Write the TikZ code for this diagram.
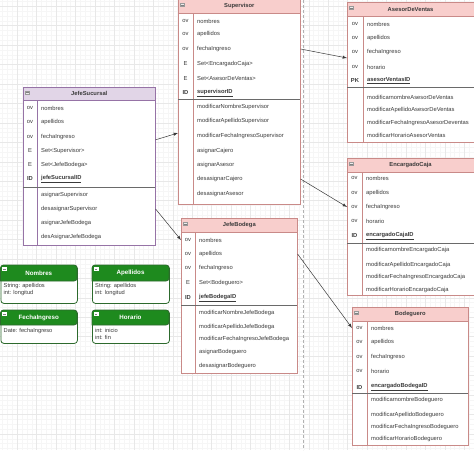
\documentclass[tikz,border=0pt]{standalone}
\usepackage{fontspec}
\setmainfont{Liberation Sans}
\usetikzlibrary{calc}

\definecolor{pinkfill}{HTML}{F8CECC}
\definecolor{pinkline}{HTML}{C98A88}
\definecolor{lilafill}{HTML}{E1D5E7}
\definecolor{lilaline}{HTML}{9673A6}
\definecolor{grnfill}{HTML}{1E8A1E}
\definecolor{grnline}{HTML}{2D6A2D}
\definecolor{txtgray}{HTML}{3A3A3A}
\definecolor{sepline}{HTML}{6A6A6A}
\definecolor{gridmaj}{HTML}{E8E8E8}
\definecolor{gridmin}{HTML}{F6F6F6}

\tikzset{
  rowtxt/.style={anchor=west, inner sep=0pt, text=txtgray, font=\fontsize{5.8}{7}\selectfont},
  keytxt/.style={inner sep=0pt, text=txtgray, font=\fontsize{5.8}{7}\selectfont},
  pinkbox/.style={draw=pinkline, fill=white, line width=0.6pt, anchor=north west, inner sep=0pt},
  pinkhead/.style={pinkbox, fill=pinkfill, text=txtgray, font=\bfseries\fontsize{5.8}{7}\selectfont},
  lilabox/.style={pinkbox, draw=lilaline},
  lilahead/.style={pinkhead, draw=lilaline, fill=lilafill},
  grnbox/.style={draw=grnline, fill=white, line width=0.8pt, rounded corners=3pt, anchor=north west, inner sep=0pt},
  grnhead/.style={draw=grnline, fill=grnfill, line width=0.8pt},
  grntitle/.style={inner sep=0pt, text=white, font=\bfseries\fontsize{6.2}{7}\selectfont},
  grntxt/.style={anchor=north west, align=left, inner sep=0pt, text=txtgray, font=\fontsize{5.7}{7}\selectfont},
  iconbox/.style={draw=gray!80, fill=gray!15, line width=0.3pt, minimum width=4pt, minimum height=3pt, inner sep=0pt,
    path picture={\draw[gray, line width=0.3pt] ([xshift=0.9pt]path picture bounding box.west) -- ([xshift=-0.9pt]path picture bounding box.east);}},
  grnicon/.style={iconbox, draw=white, fill=white},
  assoc/.style={-latex, draw=txtgray, line width=0.5pt}
}

\begin{document}
\begin{tikzpicture}[x=1pt,y=-1pt]
  \useasboundingbox (0,0) rectangle (474,450);
  \fill[white] (0,0) rectangle (474,450);

  % grid
  \foreach \gx in {0,...,97} \draw[gridmin, line width=0.4pt] ({2.62+\gx*4.86},0) -- ({2.62+\gx*4.86},450);
  \foreach \gy in {0,...,92} \draw[gridmin, line width=0.4pt] (0,{1.34+\gy*4.86}) -- (474,{1.34+\gy*4.86});
  \foreach \gx in {0,...,23} \draw[gridmaj, line width=0.4pt] ({17.2+\gx*19.44},0) -- ({17.2+\gx*19.44},450);
  \foreach \gy in {0,...,22} \draw[gridmaj, line width=0.4pt] (0,{6.2+\gy*19.44}) -- (474,{6.2+\gy*19.44});

  \draw[gray!60, line width=0.5pt, dash pattern=on 3pt off 2pt] (303,0) -- (303,450);

  % Supervisor
  \node[pinkbox, minimum width=122pt, minimum height=205pt] (sup) at (178,-1) {};
  \node[pinkhead, minimum width=122pt, minimum height=14pt] (sup-h) at (178,-1) {Supervisor};
  \node[iconbox] (sup-ic) at (182.5,5) {};
  \draw[pinkline, line width=0.6pt] (193,13) -- (193,204);
  \draw[sepline, line width=0.6pt] (178,99) -- (300,99);
  \node[keytxt] (sup-k1) at (185.5,21) {ov};
  \node[rowtxt] (sup-a1) at (197,21) {nombres};
  \node[keytxt] (sup-k2) at (185.5,34) {ov};
  \node[rowtxt] (sup-a2) at (197,34) {apellidos};
  \node[keytxt] (sup-k3) at (185.5,49) {ov};
  \node[rowtxt] (sup-a3) at (197,49) {fechaIngreso};
  \node[keytxt] (sup-k4) at (185.5,64) {E};
  \node[rowtxt] (sup-a4) at (197,64) {Set<EncargadoCaja>};
  \node[keytxt] (sup-k5) at (185.5,79) {E};
  \node[rowtxt] (sup-a5) at (197,79) {Set<AsesorDeVentas>};
  \node[keytxt, font=\bfseries\fontsize{5.8}{7}\selectfont] (sup-k6) at (185.5,93) {ID};
  \node[rowtxt] (sup-a6) at (197,93) {\underline{\textbf{supervisorID}}};
  \node[rowtxt] (sup-m1) at (197,107) {modificarNombreSupervisor};
  \node[rowtxt] (sup-m2) at (197,121) {modificarApellidoSupervisor};
  \node[rowtxt] (sup-m3) at (197,136) {modificarFechaIngresoSupervisor};
  \node[rowtxt] (sup-m4) at (197,151) {asignarCajero};
  \node[rowtxt] (sup-m5) at (197,165) {asignarAsesor};
  \node[rowtxt] (sup-m6) at (197,179) {desasignarCajero};
  \node[rowtxt] (sup-m7) at (197,194) {desasignarAsesor};

  % AsesorDeVentas
  \node[pinkbox, minimum width=126.5pt, minimum height=140pt] (ase) at (347,2) {};
  \node[pinkhead, minimum width=126.5pt, minimum height=14pt] (ase-h) at (347,2) {AsesorDeVentas};
  \node[iconbox] (ase-ic) at (351.5,8) {};
  \draw[pinkline, line width=0.6pt] (363,16) -- (363,142);
  \draw[sepline, line width=0.6pt] (347,87) -- (473.5,87);
  \node[keytxt] (ase-k1) at (355,24) {ov};
  \node[rowtxt] (ase-a1) at (367,24) {nombres};
  \node[keytxt] (ase-k2) at (355,38) {ov};
  \node[rowtxt] (ase-a2) at (367,38) {apellidos};
  \node[keytxt] (ase-k3) at (355,52) {ov};
  \node[rowtxt] (ase-a3) at (367,52) {fechaIngreso};
  \node[keytxt] (ase-k4) at (355,67) {ov};
  \node[rowtxt] (ase-a4) at (367,67) {horario};
  \node[keytxt, font=\bfseries\fontsize{5.8}{7}\selectfont] (ase-k5) at (355,81) {PK};
  \node[rowtxt] (ase-a5) at (367,81) {\underline{\textbf{asesorVentasID}}};
  \node[rowtxt] (ase-m1) at (367,97) {modificarnombreAsesorDeVentas};
  \node[rowtxt] (ase-m2) at (367,110) {modificarApellidoAsesorDeVentas};
  \node[rowtxt] (ase-m3) at (367,123) {modificarFechaIngresoAsesorDeventas};
  \node[rowtxt] (ase-m4) at (367,135) {modificarHorarioAsesorVentas};

  % JefeSucursal
  \node[lilabox, minimum width=132pt, minimum height=158pt] (js) at (23,87) {};
  \node[lilahead, minimum width=132pt, minimum height=13pt] (js-h) at (23,87) {JefeSucursal};
  \node[iconbox] (js-ic) at (27.5,92.5) {};
  \draw[lilaline, line width=0.6pt] (37,100) -- (37,245);
  \draw[sepline, line width=0.6pt] (23,187) -- (155,187);
  \node[keytxt] (js-k1) at (30,108) {ov};
  \node[rowtxt] (js-a1) at (41,108) {nombres};
  \node[keytxt] (js-k2) at (30,122) {ov};
  \node[rowtxt] (js-a2) at (41,122) {apellidos};
  \node[keytxt] (js-k3) at (30,137) {ov};
  \node[rowtxt] (js-a3) at (41,137) {fechaIngreso};
  \node[keytxt] (js-k4) at (30,151) {E};
  \node[rowtxt] (js-a4) at (41,151) {Set<Supervisor>};
  \node[keytxt] (js-k5) at (30,165) {E};
  \node[rowtxt] (js-a5) at (41,165) {Set<JefeBodega>};
  \node[keytxt, font=\bfseries\fontsize{5.8}{7}\selectfont] (js-k6) at (30,179) {ID};
  \node[rowtxt] (js-a6) at (41,179) {\underline{\textbf{jefeSucursalID}}};
  \node[rowtxt] (js-m1) at (41,195) {asignarSupervisor};
  \node[rowtxt] (js-m2) at (41,209) {desasignarSupervisor};
  \node[rowtxt] (js-m3) at (41,223) {asignarJefeBodega};
  \node[rowtxt] (js-m4) at (41,237) {desAsignarJefeBodega};

  % JefeBodega
  \node[pinkbox, minimum width=116pt, minimum height=155pt] (jb) at (181,218) {};
  \node[pinkhead, minimum width=116pt, minimum height=14pt] (jb-h) at (181,218) {JefeBodega};
  \node[iconbox] (jb-ic) at (185.5,224) {};
  \draw[pinkline, line width=0.6pt] (195,232) -- (195,373);
  \draw[sepline, line width=0.6pt] (181,305) -- (297,305);
  \node[keytxt] (jb-k1) at (188,240) {ov};
  \node[rowtxt] (jb-a1) at (199,240) {nombres};
  \node[keytxt] (jb-k2) at (188,254) {ov};
  \node[rowtxt] (jb-a2) at (199,254) {apellidos};
  \node[keytxt] (jb-k3) at (188,268) {ov};
  \node[rowtxt] (jb-a3) at (199,268) {fechaIngreso};
  \node[keytxt] (jb-k4) at (188,283) {E};
  \node[rowtxt] (jb-a4) at (199,283) {Set<Bodeguero>};
  \node[keytxt, font=\bfseries\fontsize{5.8}{7}\selectfont] (jb-k5) at (188,298) {ID};
  \node[rowtxt] (jb-a5) at (199,298) {\underline{\textbf{jefeBodegaID}}};
  \node[rowtxt] (jb-m1) at (199,313) {modificarNombreJefeBodega};
  \node[rowtxt] (jb-m2) at (199,327) {modificarApellidoJefeBodega};
  \node[rowtxt] (jb-m3) at (199,339) {modificarFechaIngresoJefeBodega};
  \node[rowtxt] (jb-m4) at (199,352) {asignarBodeguero};
  \node[rowtxt] (jb-m5) at (199,366) {desasignarBodeguero};

  % EncargadoCaja
  \node[pinkbox, minimum width=126.5pt, minimum height=137pt] (enc) at (347,158) {};
  \node[pinkhead, minimum width=126.5pt, minimum height=14pt] (enc-h) at (347,158) {EncargadoCaja};
  \node[iconbox] (enc-ic) at (351.5,164) {};
  \draw[pinkline, line width=0.6pt] (362,172) -- (362,295);
  \draw[sepline, line width=0.6pt] (347,243) -- (473.5,243);
  \node[keytxt] (enc-k1) at (354.5,178) {ov};
  \node[rowtxt] (enc-a1) at (366,178) {nombres};
  \node[keytxt] (enc-k2) at (354.5,193) {ov};
  \node[rowtxt] (enc-a2) at (366,193) {apellidos};
  \node[keytxt] (enc-k3) at (354.5,207) {ov};
  \node[rowtxt] (enc-a3) at (366,207) {fechaIngreso};
  \node[keytxt] (enc-k4) at (354.5,221) {ov};
  \node[rowtxt] (enc-a4) at (366,221) {horario};
  \node[keytxt, font=\bfseries\fontsize{5.8}{7}\selectfont] (enc-k5) at (354.5,236) {ID};
  \node[rowtxt] (enc-a5) at (366,236) {\underline{\textbf{encargadoCajaID}}};
  \node[rowtxt] (enc-m1) at (366,250) {modificarnombreEncargadoCaja};
  \node[rowtxt] (enc-m2) at (366,265) {modificarApellidoEncargadoCaja};
  \node[rowtxt] (enc-m3) at (366,277) {modificarFechaIngresoEncargadoCaja};
  \node[rowtxt] (enc-m4) at (366,290) {modificarHorarioEncargadoCaja};

  % Bodeguero
  \node[pinkbox, minimum width=116pt, minimum height=138pt] (bod) at (352,307) {};
  \node[pinkhead, minimum width=116pt, minimum height=14pt] (bod-h) at (352,307) {Bodeguero};
  \node[iconbox] (bod-ic) at (356.5,313) {};
  \draw[pinkline, line width=0.6pt] (367,321) -- (367,445);
  \draw[sepline, line width=0.6pt] (352,393) -- (468,393);
  \node[keytxt] (bod-k1) at (359.5,328) {ov};
  \node[rowtxt] (bod-a1) at (371,328) {nombres};
  \node[keytxt] (bod-k2) at (359.5,342) {ov};
  \node[rowtxt] (bod-a2) at (371,342) {apellidos};
  \node[keytxt] (bod-k3) at (359.5,357) {ov};
  \node[rowtxt] (bod-a3) at (371,357) {fechaIngreso};
  \node[keytxt] (bod-k4) at (359.5,371) {ov};
  \node[rowtxt] (bod-a4) at (371,371) {horario};
  \node[keytxt, font=\bfseries\fontsize{5.8}{7}\selectfont] (bod-k5) at (359.5,387) {ID};
  \node[rowtxt] (bod-a5) at (371,387) {\underline{\textbf{encargadoBodegaID}}};
  \node[rowtxt] (bod-m1) at (371,400) {modificarnombreBodeguero};
  \node[rowtxt] (bod-m2) at (371,415) {modificarApellidoBodeguero};
  \node[rowtxt] (bod-m3) at (371,427) {modificarFechaIngresoBodeguero};
  \node[rowtxt] (bod-m4) at (371,439) {modificarHorarioBodeguero};

  % value types
  \node[grnbox, minimum width=76.5pt, minimum height=38pt] (nom) at (0.5,265) {};
  \draw[grnhead] (0.5,281) [rounded corners=3pt] -- (0.5,265) -- (77,265) -- (77,281) [sharp corners] -- cycle;
  \node[grntitle] (nom-t) at (38.75,273) {Nombres};
  \node[grnicon] (nom-ic) at (4.5,269) {};
  \node[grntxt] (nom-b) at (3.5,283) {String: apellidos\\int: longitud};

  \node[grnbox, minimum width=77pt, minimum height=38pt] (ape) at (92,265) {};
  \draw[grnhead] (92,281) [rounded corners=3pt] -- (92,265) -- (169,265) -- (169,281) [sharp corners] -- cycle;
  \node[grntitle] (ape-t) at (130.5,273) {Apellidos};
  \node[grnicon] (ape-ic) at (96,269) {};
  \node[grntxt] (ape-b) at (95,283) {String: apellidos\\int: longitud};

  \node[grnbox, minimum width=76.5pt, minimum height=33pt] (fec) at (0.5,310) {};
  \draw[grnhead] (0.5,325) [rounded corners=3pt] -- (0.5,310) -- (77,310) -- (77,325) [sharp corners] -- cycle;
  \node[grntitle] (fec-t) at (38.75,317.5) {FechaIngreso};
  \node[grnicon] (fec-ic) at (4.5,314) {};
  \node[grntxt] (fec-b) at (3.5,328) {Date: fechaIngreso};

  \node[grnbox, minimum width=77pt, minimum height=33pt] (hor) at (92,310) {};
  \draw[grnhead] (92,325) [rounded corners=3pt] -- (92,310) -- (169,310) -- (169,325) [sharp corners] -- cycle;
  \node[grntitle] (hor-t) at (130.5,317.5) {Horario};
  \node[grnicon] (hor-ic) at (96,314) {};
  \node[grntxt] (hor-b) at (95,328) {int: inicio\\int: fin};

  % associations
  \draw[assoc] ($(js.east |- js-k3)!0.2!(js.east |- js-k4)$) -- ($(sup.west |- sup-m2)!0.8!(sup.west |- sup-m3)$);
  \draw[assoc] (js.east |- js-m2) -- (jb.west |- jb-k1);
  \draw[assoc] (sup.east |- sup-k3) -- ($(ase.west |- ase-k3)!0.4!(ase.west |- ase-k4)$);
  \draw[assoc] (sup.east |- sup-m6) -- (enc.west |- enc-k3);
  \draw[assoc] (jb.east |- jb-k2) -- (bod.west |- bod-k1);
\end{tikzpicture}
\end{document}
